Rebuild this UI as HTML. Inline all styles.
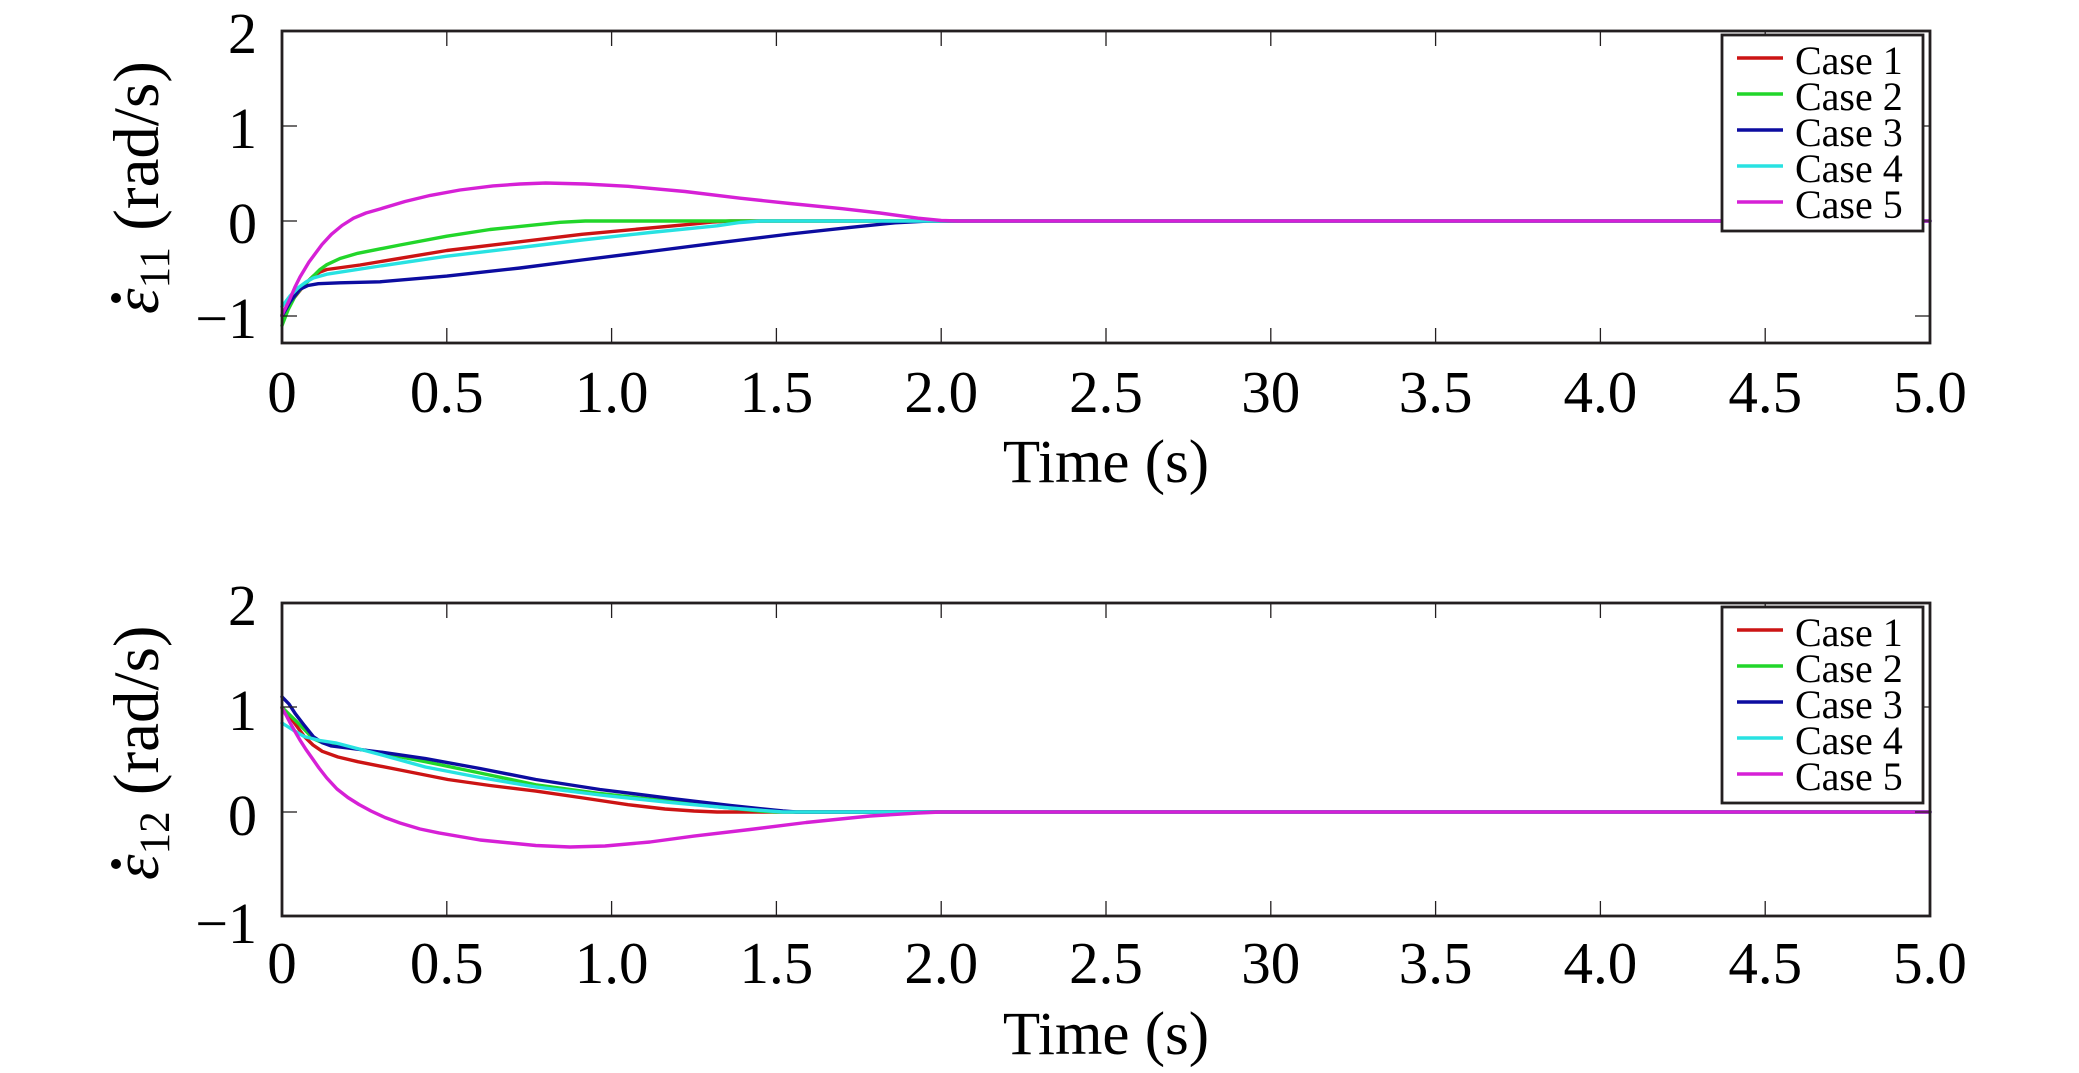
<!DOCTYPE html>
<html>
<head>
<meta charset="utf-8">
<style>
html,body{margin:0;padding:0;background:#fff;}
svg{display:block;}
text{font-family:"Liberation Serif","Times New Roman",serif;fill:#000;}
</style>
</head>
<body>
<svg width="2079" height="1073" viewBox="0 0 2079 1073" xmlns="http://www.w3.org/2000/svg">
<rect width="2079" height="1073" fill="#fff"/>

<!-- ================= TOP PANEL ================= -->
<g fill="none" stroke-linejoin="round" stroke-linecap="round" stroke-width="3.4">
  <polyline stroke="#cc1414" points="282,315 290,303 298.5,292.3 306,283 313.3,276.1 320,272 326.8,269.5 360,265 446.8,250.5 581.9,234.3 694,223.9 712,222 730.3,221 1930,221"/>
  <polyline stroke="#22d62a" points="282,325.5 288,310 295.2,296 304,285 313.3,276.1 320,269.5 326.8,264.7 340,258.5 357.8,253.3 400,245 446.8,236.2 490,229.5 535.8,224.8 560,222.3 585.2,221 1930,221"/>
  <polyline stroke="#0c0ca0" points="282,316 290,302 299.8,289.4 308,285.5 318.3,283.7 340,282.8 380,281.8 446.8,276.1 520,268 581.9,260 650,251.5 717.1,242.9 790,234 848.9,227.6 895.1,222.8 928,221 1930,221"/>
  <polyline stroke="#28e2e2" points="282,306.5 290,296 298.5,287.5 306,282 313.3,278 326.8,274.2 380,266 446.8,256.2 520,247.5 581.9,240 650,232.5 717.1,225.8 740,222.5 759.9,221 1930,221"/>
  <polyline stroke="#d620d6" points="282,315 285.5,308 288.6,301.8 292,294 295.2,286.6 300,277 305.1,268.5 309,262 313.3,256.2 322,244.5 331.4,234.3 342,225.5 353.5,218.2 366,213 380.9,208.7 405,201.5 430.3,195.4 460,190 492.9,185.9 520,184 545.7,183 585,184 628.1,186.3 685,191.5 740.1,198.2 790,203.5 842.3,208.7 880,213 918.1,218.2 941.2,220.5 957.7,221 1930,221"/>
</g>
<!-- ticks -->
<g stroke="#231f20" stroke-width="1.3">
  <line x1="282" y1="126" x2="297" y2="126"/><line x1="282" y1="221" x2="297" y2="221"/><line x1="282" y1="316" x2="297" y2="316"/>
  <line x1="1930" y1="126" x2="1915" y2="126"/><line x1="1930" y1="221" x2="1915" y2="221"/><line x1="1930" y1="316" x2="1915" y2="316"/>
  <line x1="446.8" y1="31" x2="446.8" y2="46"/><line x1="611.6" y1="31" x2="611.6" y2="46"/><line x1="776.4" y1="31" x2="776.4" y2="46"/><line x1="941.2" y1="31" x2="941.2" y2="46"/><line x1="1106" y1="31" x2="1106" y2="46"/><line x1="1270.8" y1="31" x2="1270.8" y2="46"/><line x1="1435.6" y1="31" x2="1435.6" y2="46"/><line x1="1600.4" y1="31" x2="1600.4" y2="46"/><line x1="1765.2" y1="31" x2="1765.2" y2="46"/>
  <line x1="446.8" y1="343" x2="446.8" y2="328"/><line x1="611.6" y1="343" x2="611.6" y2="328"/><line x1="776.4" y1="343" x2="776.4" y2="328"/><line x1="941.2" y1="343" x2="941.2" y2="328"/><line x1="1106" y1="343" x2="1106" y2="328"/><line x1="1270.8" y1="343" x2="1270.8" y2="328"/><line x1="1435.6" y1="343" x2="1435.6" y2="328"/><line x1="1600.4" y1="343" x2="1600.4" y2="328"/><line x1="1765.2" y1="343" x2="1765.2" y2="328"/>
</g>
<rect x="282" y="31" width="1648" height="312" fill="none" stroke="#231f20" stroke-width="2.8"/>
<!-- legend top -->
<rect x="1722" y="35" width="201" height="196" fill="#fff" stroke="#231f20" stroke-width="2.8"/>
<g stroke-width="3.4">
  <line x1="1737" y1="58" x2="1783" y2="58" stroke="#cc1414"/>
  <line x1="1737" y1="94" x2="1783" y2="94" stroke="#22d62a"/>
  <line x1="1737" y1="130" x2="1783" y2="130" stroke="#0c0ca0"/>
  <line x1="1737" y1="166" x2="1783" y2="166" stroke="#28e2e2"/>
  <line x1="1737" y1="202" x2="1783" y2="202" stroke="#d620d6"/>
</g>
<g font-size="40">
  <text x="1795" y="74">Case 1</text>
  <text x="1795" y="110">Case 2</text>
  <text x="1795" y="146">Case 3</text>
  <text x="1795" y="182">Case 4</text>
  <text x="1795" y="218">Case 5</text>
</g>
<!-- y tick labels -->
<g font-size="58" text-anchor="end">
  <text x="257" y="53">2</text>
  <text x="257" y="148">1</text>
  <text x="257" y="243">0</text>
  <text x="257" y="338">−1</text>
</g>
<!-- x tick labels -->
<g font-size="59" text-anchor="middle">
  <text x="282" y="412">0</text>
  <text x="446.8" y="412">0.5</text>
  <text x="611.6" y="412">1.0</text>
  <text x="776.4" y="412">1.5</text>
  <text x="941.2" y="412">2.0</text>
  <text x="1106" y="412">2.5</text>
  <text x="1270.8" y="412">30</text>
  <text x="1435.6" y="412">3.5</text>
  <text x="1600.4" y="412">4.0</text>
  <text x="1765.2" y="412">4.5</text>
  <text x="1930" y="412">5.0</text>
</g>
<text x="1106" y="482" font-size="61" text-anchor="middle">Time (s)</text>
<!-- y label top -->
<g transform="translate(158,314) rotate(-90)">
  <text x="0" y="0" font-size="65"><tspan font-style="italic">ε</tspan><tspan font-size="43" dy="11">11</tspan><tspan dy="-11"> (rad/s)</tspan></text>
</g>
<circle cx="116" cy="298" r="5" fill="#000"/>

<!-- ================= BOTTOM PANEL ================= -->
<g fill="none" stroke-linejoin="round" stroke-linecap="round" stroke-width="3.4">
  <polyline stroke="#cc1414" points="282,707.3 293,721 304.4,736.6 313,745 322.2,751.3 338,757 357.8,761.7 400,770 447.8,779.5 490,785.5 535.8,791.1 580,797.5 628.1,804.7 665,809 694,811 717.1,812 1930,812"/>
  <polyline stroke="#22d62a" points="282,707.3 297,722 313.3,738.7 323,743 335.7,745 380,753 425.4,761.7 480,773 535.8,784.8 600,793.5 670.9,801.5 720,807 759.9,811 776.4,812 1930,812"/>
  <polyline stroke="#0c0ca0" points="282,696.8 289,704 295.2,713.6 304,725 313.3,736.6 322,742.5 331.4,746 380,752 425.4,758.6 480,768.5 535.8,779.5 600,789.5 670.9,798.4 730,805.5 783,811 796.2,812 1930,812"/>
  <polyline stroke="#28e2e2" points="282,723 293,730 304.4,736.6 320,740.5 335.7,742.9 380,754.5 425.4,767 480,777.5 535.8,786.9 600,795 670.9,802.6 730,808 783,812 1930,812"/>
  <polyline stroke="#d620d6" points="282,708.3 286,715 290.2,723 295,731.5 299.8,739.8 306,749.5 312,758 319,768 326.8,778 337,789 347.9,797.5 359,804.5 371,811 385,817.5 400,823 420,829 438.9,832.9 480,840 535.8,845.5 570,847 605,846 650,842 694,836.1 750,829.5 806.1,822.5 870,816 918.1,813 941.2,812 1930,812"/>
</g>
<g stroke="#231f20" stroke-width="1.3">
  <line x1="282" y1="707" x2="297" y2="707"/><line x1="282" y1="812" x2="297" y2="812"/>
  <line x1="1930" y1="707" x2="1915" y2="707"/><line x1="1930" y1="812" x2="1915" y2="812"/>
  <line x1="446.8" y1="603" x2="446.8" y2="618"/><line x1="611.6" y1="603" x2="611.6" y2="618"/><line x1="776.4" y1="603" x2="776.4" y2="618"/><line x1="941.2" y1="603" x2="941.2" y2="618"/><line x1="1106" y1="603" x2="1106" y2="618"/><line x1="1270.8" y1="603" x2="1270.8" y2="618"/><line x1="1435.6" y1="603" x2="1435.6" y2="618"/><line x1="1600.4" y1="603" x2="1600.4" y2="618"/><line x1="1765.2" y1="603" x2="1765.2" y2="618"/>
  <line x1="446.8" y1="916" x2="446.8" y2="901"/><line x1="611.6" y1="916" x2="611.6" y2="901"/><line x1="776.4" y1="916" x2="776.4" y2="901"/><line x1="941.2" y1="916" x2="941.2" y2="901"/><line x1="1106" y1="916" x2="1106" y2="901"/><line x1="1270.8" y1="916" x2="1270.8" y2="901"/><line x1="1435.6" y1="916" x2="1435.6" y2="901"/><line x1="1600.4" y1="916" x2="1600.4" y2="901"/><line x1="1765.2" y1="916" x2="1765.2" y2="901"/>
</g>
<rect x="282" y="603" width="1648" height="313" fill="none" stroke="#231f20" stroke-width="2.8"/>
<!-- legend bottom -->
<rect x="1722" y="607" width="201" height="196" fill="#fff" stroke="#231f20" stroke-width="2.8"/>
<g stroke-width="3.4">
  <line x1="1737" y1="630" x2="1783" y2="630" stroke="#cc1414"/>
  <line x1="1737" y1="666" x2="1783" y2="666" stroke="#22d62a"/>
  <line x1="1737" y1="702" x2="1783" y2="702" stroke="#0c0ca0"/>
  <line x1="1737" y1="738" x2="1783" y2="738" stroke="#28e2e2"/>
  <line x1="1737" y1="774" x2="1783" y2="774" stroke="#d620d6"/>
</g>
<g font-size="40">
  <text x="1795" y="646">Case 1</text>
  <text x="1795" y="682">Case 2</text>
  <text x="1795" y="718">Case 3</text>
  <text x="1795" y="754">Case 4</text>
  <text x="1795" y="790">Case 5</text>
</g>
<g font-size="58" text-anchor="end">
  <text x="257" y="625">2</text>
  <text x="257" y="730">1</text>
  <text x="257" y="835">0</text>
  <text x="257" y="943">−1</text>
</g>
<g font-size="59" text-anchor="middle">
  <text x="282" y="983">0</text>
  <text x="446.8" y="983">0.5</text>
  <text x="611.6" y="983">1.0</text>
  <text x="776.4" y="983">1.5</text>
  <text x="941.2" y="983">2.0</text>
  <text x="1106" y="983">2.5</text>
  <text x="1270.8" y="983">30</text>
  <text x="1435.6" y="983">3.5</text>
  <text x="1600.4" y="983">4.0</text>
  <text x="1765.2" y="983">4.5</text>
  <text x="1930" y="983">5.0</text>
</g>
<text x="1106" y="1054" font-size="61" text-anchor="middle">Time (s)</text>
<g transform="translate(158,880) rotate(-90)">
  <text x="0" y="0" font-size="65"><tspan font-style="italic">ε</tspan><tspan font-size="43" dy="11">12</tspan><tspan dy="-11"> (rad/s)</tspan></text>
</g>
<circle cx="116" cy="864" r="5" fill="#000"/>
</svg>
</body>
</html>
